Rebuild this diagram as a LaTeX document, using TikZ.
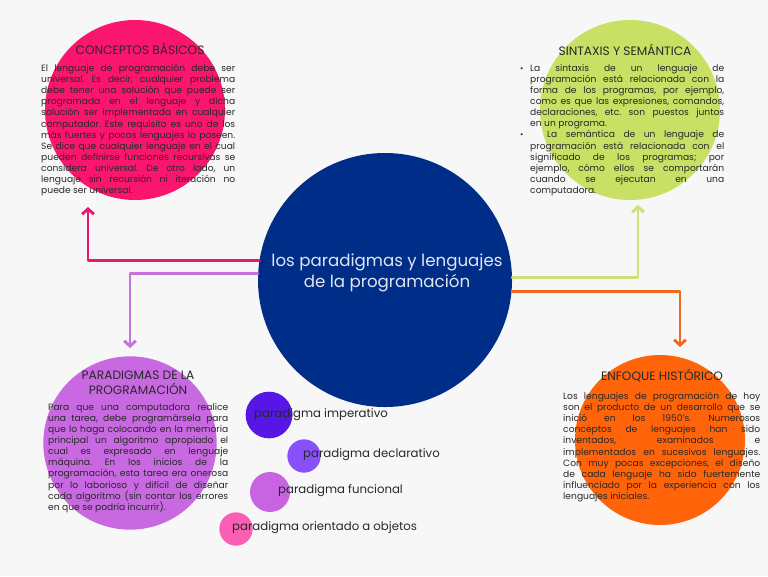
\documentclass[tikz,border=0pt]{standalone}
\usepackage{fontspec}
\setmainfont{Poppins}
\usetikzlibrary{arrows.meta,positioning,calc}
\definecolor{pagebg}{RGB}{247,247,247}
\definecolor{inktext}{RGB}{40,40,40}
\definecolor{basicospink}{RGB}{250,22,110}
\definecolor{sintaxisgreen}{RGB}{200,225,100}
\definecolor{paradigmaspurple}{RGB}{200,105,225}
\definecolor{enfoqueorange}{RGB}{255,100,10}
\definecolor{nucleoblue}{RGB}{0,45,135}
\definecolor{impviolet}{RGB}{88,22,230}
\definecolor{declviolet}{RGB}{135,80,250}
\definecolor{funcorchid}{RGB}{200,100,225}
\definecolor{objpink}{RGB}{250,95,180}
\definecolor{pinkline}{RGB}{232,25,110}
\definecolor{purpleline}{RGB}{200,115,220}
\definecolor{greenline}{RGB}{205,225,120}
\definecolor{orangeline}{RGB}{240,105,30}

\tikzset{
  bubble/.style={circle,inner sep=0pt,draw=none},
  headtext/.style={font=\fontsize{10.4}{12.6}\selectfont,text=inktext,align=center,inner sep=0pt},
  bodytext/.style={font=\fontsize{7.8}{9.5}\selectfont\frenchspacing,text=inktext,align=justify,inner sep=0pt,anchor=north west},
  leaftext/.style={font=\fontsize{10}{12}\selectfont,text=inktext,inner sep=0pt,anchor=west},
  link/.style={line width=2.5pt,line cap=round,line join=round,-{Straight Barb[length=4.5pt,width=10pt]}}
}
\newcommand{\bulletline}[1]{{\hangindent=0.3cm\hangafter=1\noindent\makebox[0.3cm][l]{\scriptsize\textbullet}#1\par}}

\begin{document}
\begin{tikzpicture}[x=0.03cm,y=-0.03cm]
    \fill[pagebg] (0,0) rectangle (768,576);
    \useasboundingbox (0,0) rectangle (768,576);

    \node[bubble,fill=basicospink,minimum size=5.4cm] (basicos) at (135,110) {};
    \node[bubble,fill=sintaxisgreen,minimum size=5.4cm] (sintaxis) at (630,110) {};
    \node[bubble,fill=paradigmaspurple,minimum size=5.2cm] (paradigmas) at (130,443) {};
    \node[bubble,fill=enfoqueorange,minimum size=5.1cm] (enfoque) at (660,440) {};
    \node[bubble,fill=nucleoblue,minimum size=7.62cm] (nucleo) at (385,280) {};

    \node[bubble,fill=impviolet,minimum size=1.4cm] (imperativo) at (269,415) {};
    \node[bubble,fill=declviolet,minimum size=1.0cm] (declarativo) at (304,456) {};
    \node[bubble,fill=funcorchid,minimum size=1.2cm] (funcional) at (270,492) {};
    \node[bubble,fill=objpink,minimum size=1.0cm] (objetos) at (236,529) {};

    \coordinate (basicosarrow) at (88,207);
    \coordinate (paradigmasarrow) at (130,348);
    \coordinate (sintaxisarrow) at (638,205);
    \coordinate (enfoquearrow) at (680,347);
    \draw[link,pinkline] (nucleo.171) -| (basicosarrow);
    \draw[link,purpleline] (nucleo.177) -| (paradigmasarrow);
    \draw[link,greenline] (nucleo.1) -| (sintaxisarrow);
    \draw[link,orangeline] (nucleo.-5) -| (enfoquearrow);

    \node[font=\fontsize{14.2}{17.5}\selectfont,text=white!88!nucleoblue,align=center] (nucleotext) at (387,273) {los paradigmas y lenguajes\\de la programación};

    \node[headtext] (basicostitle) at (140,49) {CONCEPTOS BÁSICOS};
    \node[bodytext,text width=5.82cm] (basicosbody) at (41,64) {El lenguaje de programación debe ser\linebreak
      universal. Es decir, cualquier problema\linebreak
      debe tener una solución que puede ser\linebreak
      programada en el lenguaje y dicha\linebreak
      solución ser implementada en cualquier\linebreak
      computador. Este requisito es uno de los\linebreak
      más fuertes y pocos lenguajes lo poseen.\linebreak
      Se dice que cualquier lenguaje en el cual\linebreak
      pueden definirse funciones recursivas se\linebreak
      considera universal. De otro lado, un\linebreak
      lenguaje sin recursión ni iteración no\linebreak
      puede ser universal.};

    \node[headtext] (sintaxistitle) at (625,50) {SINTAXIS Y SEMÁNTICA};
    \node[bodytext,text width=6.12cm] (sintaxisbody) at (520,64) {\bulletline{La sintaxis de un lenguaje de\linebreak
      programación está relacionada con la\linebreak
      forma de los programas, por ejemplo,\linebreak
      como es que las expresiones, comandos,\linebreak
      declaraciones, etc. son puestos juntos\linebreak
      en un programa.}\bulletline{\ \ La semántica de un lenguaje de\linebreak
      programación está relacionada con el\linebreak
      significado de los programas; por\linebreak
      ejemplo, cómo ellos se comportarán\linebreak
      cuando se ejecutan en una\linebreak
      computadora.}};

    \node[headtext] (paradigmastitle) at (138,383) {PARADIGMAS DE LA\\PROGRAMACIÓN};
    \node[bodytext,text width=5.4cm] (paradigmasbody) at (48,403) {Para que una computadora realice\linebreak
      una tarea, debe programársela para\linebreak
      que lo haga colocando en la memoria\linebreak
      principal un algoritmo apropiado el\linebreak
      cual es expresado en lenguaje\linebreak
      máquina. En los inicios de la\linebreak
      programación, esta tarea era onerosa\linebreak
      por lo laborioso y difícil de diseñar\linebreak
      cada algoritmo (sin contar los errores\linebreak
      en que se podría incurrir).};

    \node[headtext] (enfoquetitle) at (662,376) {ENFOQUE HISTÓRICO};
    \node[bodytext,text width=5.91cm] (enfoquebody) at (563,392) {Los lenguajes de programación de hoy\linebreak
      son el producto de un desarrollo que se\linebreak
      inició en los 1950's. Numerosos\linebreak
      conceptos de lenguajes han sido\linebreak
      inventados, examinados e\linebreak
      implementados en sucesivos lenguajes.\linebreak
      Con muy pocas excepciones, el diseño\linebreak
      de cada lenguaje ha sido fuertemente\linebreak
      influenciado por la experiencia con los\linebreak
      lenguajes iniciales.};

    \node[leaftext] (imperativotext) at (254,415) {paradigma imperativo};
    \node[leaftext] (declarativotext) at (303,455) {paradigma declarativo};
    \node[leaftext] (funcionaltext) at (278,491) {paradigma funcional};
    \node[leaftext] (objetostext) at (232,528) {paradigma orientado a objetos};
\end{tikzpicture}
\end{document}
